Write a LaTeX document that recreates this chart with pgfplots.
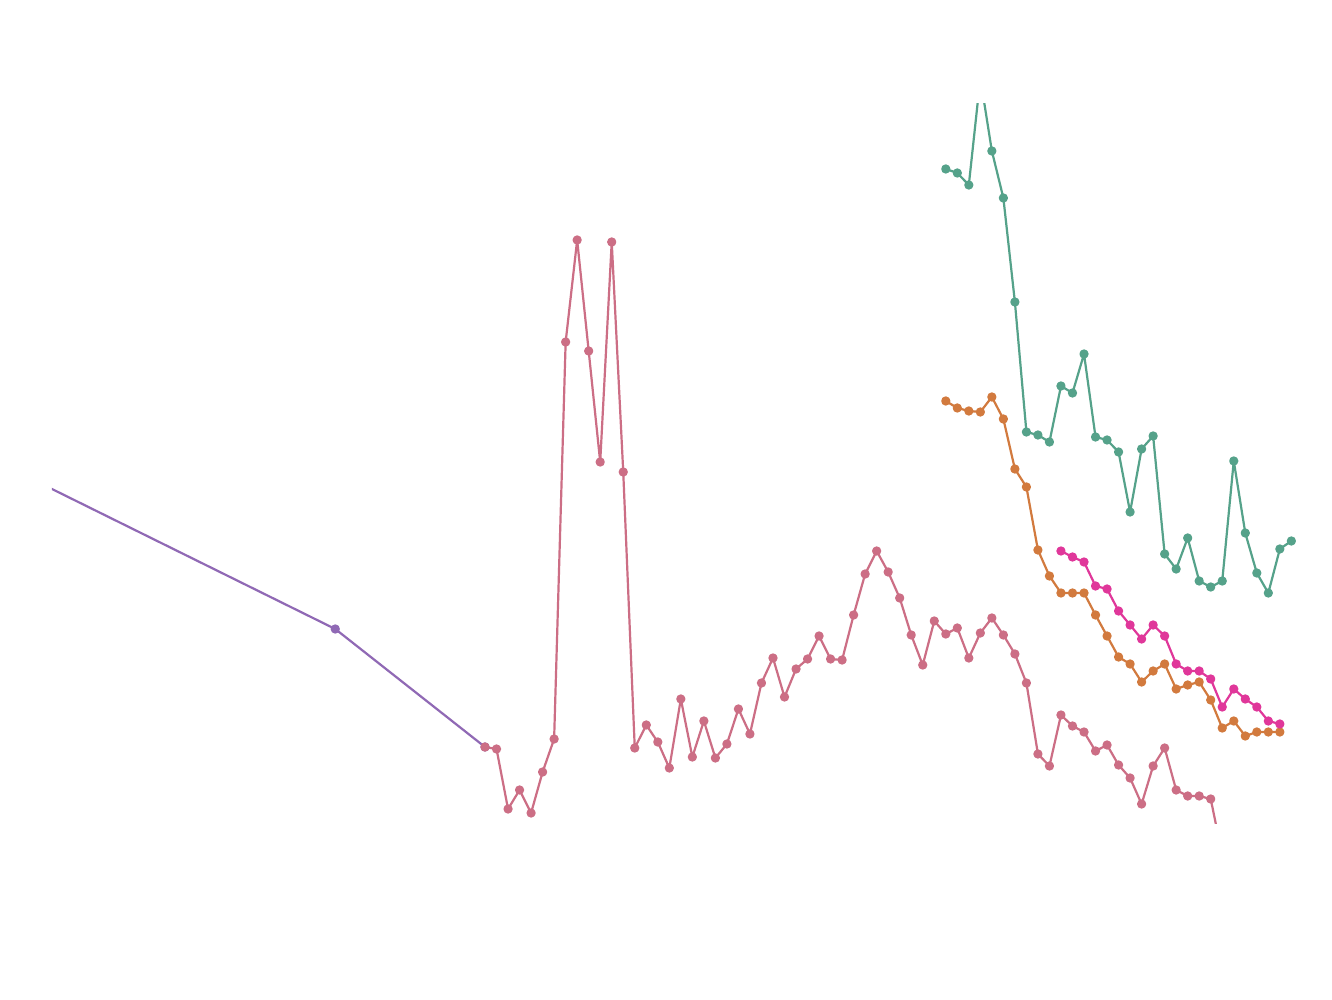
\documentclass[border=0pt]{standalone}
\usepackage{pgfplots}
\pgfplotsset{compat=1.18}
\definecolor{cpurple}{HTML}{9069B5}
\definecolor{cpink}{HTML}{CC6E85}
\definecolor{cgreen}{HTML}{55A28A}
\definecolor{corange}{HTML}{D27A3E}
\definecolor{cmagenta}{HTML}{E0379A}
\begin{document}
\begin{tikzpicture}
\useasboundingbox[fill=white] (-26pt,-88pt) rectangle (640pt,412pt);
\begin{axis}[
  at={(0,0)}, anchor=south west,
  scale only axis, width=624pt, height=360pt,
  xmin=-37.59, xmax=70.75, ymin=176, ymax=896,
  axis lines=none, ticks=none,
  every axis plot/.append style={line width=1.1pt, line join=round, mark=*, mark size=1.75pt},
]
\addplot[cpurple, mark options={fill=cpurple}] coordinates {(-39,519) (-13,371) (0,253)};
\addplot[cpink, mark options={fill=cpink}] coordinates {
(0,253) (1,251) (2,191) (3,210) (4,187) (5,228) (6,261) (7,658) (8,760) (9,649)
(10,538) (11,758) (12,528) (13,252) (14,275) (15,258) (16,232) (17,301) (18,243) (19,279)
(20,242) (21,256) (22,291) (23,266) (24,317) (25,342) (26,303) (27,331) (28,341) (29,364)
(30,341) (31,340) (32,385) (33,426) (34,449) (35,428) (36,402) (37,365) (38,335) (39,379)
(40,366) (41,372) (42,342) (43,367) (44,382) (45,365) (46,346) (47,317) (48,246) (49,234)
(50,285) (51,274) (52,268) (53,249) (54,255) (55,235) (56,222) (57,196) (58,234) (59,252)
(60,210) (61,204) (62,204) (63,201) (64,145)};
\addplot[corange, mark options={fill=corange}] coordinates {
(40,599) (41,592) (42,589) (43,588) (44,603) (45,581) (46,531) (47,513) (48,450) (49,424)
(50,407) (51,407) (52,407) (53,385) (54,364) (55,343) (56,336) (57,318) (58,329) (59,336)
(60,311) (61,315) (62,318) (63,300) (64,272) (65,279) (66,264) (67,268) (68,268) (69,268)};
\addplot[cmagenta, mark options={fill=cmagenta}] coordinates {
(50,449) (51,443) (52,438) (53,414) (54,411) (55,389) (56,375) (57,361) (58,375) (59,364)
(60,336) (61,329) (62,329) (63,321) (64,293) (65,311) (66,301) (67,293) (68,279) (69,276)};
\addplot[cgreen, mark options={fill=cgreen}] coordinates {
(40,831) (41,827) (42,815) (43,922) (44,849) (45,802) (46,698) (47,568) (48,565) (49,558)
(50,614) (51,607) (52,646) (53,563) (54,560) (55,548) (56,488) (57,551) (58,564) (59,446)
(60,431) (61,462) (62,419) (63,413) (64,419) (65,539) (66,467) (67,427) (68,407) (69,451)
(70,459)};
\end{axis}
\end{tikzpicture}
\end{document}
